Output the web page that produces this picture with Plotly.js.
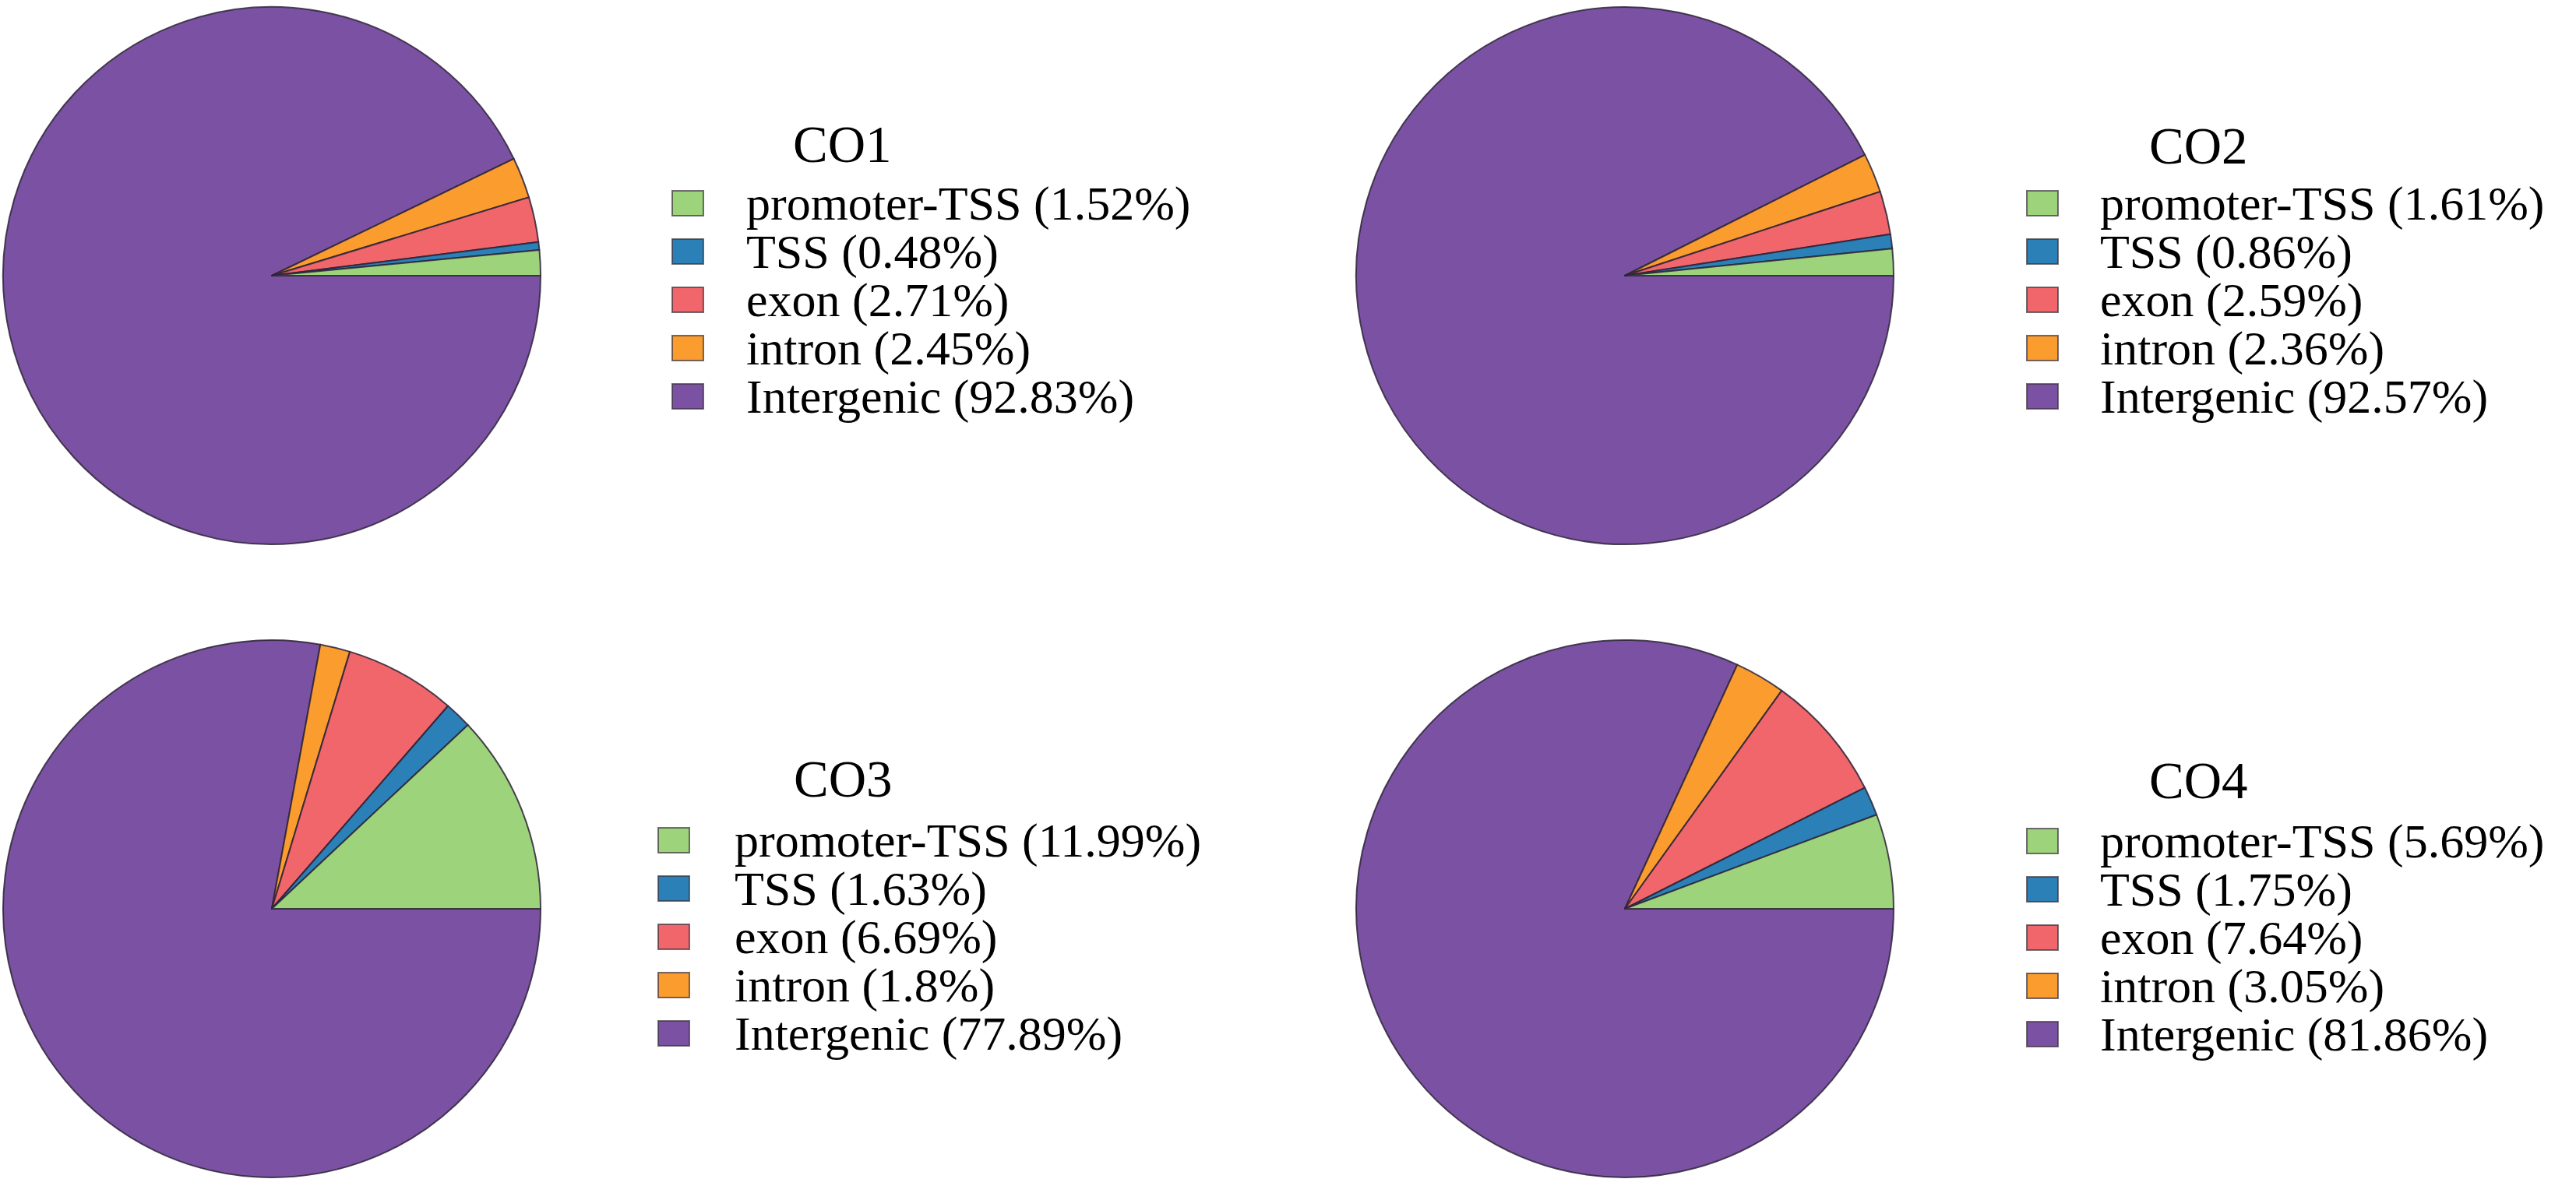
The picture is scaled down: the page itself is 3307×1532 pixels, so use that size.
<!DOCTYPE html>
<html>
<head>
<meta charset="utf-8">
<script src="https://cdn.plot.ly/plotly-3.0.1.min.js"></script>
<style>
html,body{margin:0;padding:0;background:#ffffff;}
#chart{width:3307px;height:1532px;}
</style>
</head>
<body>
<div id="chart"></div>
<script>
// ---- data ----
const categories = ['promoter-TSS', 'TSS', 'exon', 'intron', 'Intergenic'];
const sampleNames = ['CO1', 'CO2', 'CO3', 'CO4'];
const co1 = [1.52, 0.48, 2.71, 2.45, 92.83];
const co2 = [1.61, 0.86, 2.59, 2.36, 92.57];
const co3 = [11.99, 1.63, 6.69, 1.8, 77.89];
const co4 = [5.69, 1.75, 7.64, 3.05, 81.86];
const seriesValues = [co1, co2, co3, co4];

// ---- styles / layout ----
const colors = ['#9dd47b', '#2b80b8', '#f0666b', '#fa9c2e', '#7b52a3'];
const W = 3307, H = 1532;
const FONT = 'Liberation Serif, Times New Roman, Times, serif';
const ITEM_SIZE = 62, TITLE_SIZE = 67;
// pie box [left, top, right, bottom] in px; legend geometry in px
const panels = [
  {pie: [4, 9, 694, 699],        title: [1081, 185],  mx: 863,  tx: 957,  row0: 261,  gap: 62},
  {pie: [1741, 9, 2431, 699],    title: [2822, 187],  mx: 2602, tx: 2695, row0: 261,  gap: 62},
  {pie: [4, 822, 694, 1512],     title: [1082, 1000], mx: 845,  tx: 942,  row0: 1079, gap: 62},
  {pie: [1741, 822, 2431, 1512], title: [2822, 1002], mx: 2602, tx: 2695, row0: 1080, gap: 62}
];

const px = v => v / W;
const py = v => 1 - v / H;

const traces = [];
const shapes = [];
const annotations = [];

seriesValues.forEach((vals, k) => {
  const p = panels[k];
  const labels = categories.map((c, i) => c + ' (' + vals[i] + '%)');
  // drawn clockwise from 3 o'clock in reverse order, so that the slices read
  // promoter-TSS, TSS, exon, intron, Intergenic counter-clockwise from 3 o'clock
  traces.push({
    type: 'pie',
    labels: labels.slice().reverse(),
    values: vals.slice().reverse(),
    sort: false,
    direction: 'clockwise',
    rotation: 90,
    textinfo: 'none',
    hoverinfo: 'label',
    showlegend: false,
    marker: {colors: colors.slice().reverse(), line: {color: 'rgba(45,35,55,0.85)', width: 2}},
    domain: {x: [px(p.pie[0]), px(p.pie[2])], y: [py(p.pie[3]), py(p.pie[1])]}
  });
  annotations.push({
    text: sampleNames[k], xref: 'paper', yref: 'paper',
    x: px(p.title[0]), y: py(p.title[1]), xanchor: 'center', yanchor: 'middle',
    showarrow: false, borderpad: 0, font: {family: FONT, size: TITLE_SIZE, color: '#000000'}
  });
  labels.forEach((lab, i) => {
    const cy = p.row0 + i * p.gap;
    shapes.push({
      type: 'rect', xref: 'paper', yref: 'paper',
      x0: px(p.mx), x1: px(p.mx + 40), y0: py(cy + 16), y1: py(cy - 16),
      fillcolor: colors[i], line: {color: 'rgba(60,50,60,0.7)', width: 2}
    });
    annotations.push({
      text: lab, xref: 'paper', yref: 'paper',
      x: px(p.tx), y: py(cy), xanchor: 'left', yanchor: 'middle',
      showarrow: false, borderpad: 0, font: {family: FONT, size: ITEM_SIZE, color: '#000000'}
    });
  });
});

const layout = {
  width: W, height: H,
  margin: {l: 0, r: 0, t: 0, b: 0, pad: 0},
  paper_bgcolor: '#ffffff', plot_bgcolor: '#ffffff',
  showlegend: false,
  shapes: shapes,
  annotations: annotations,
  font: {family: FONT}
};

Plotly.newPlot('chart', traces, layout, {displayModeBar: false, staticPlot: true});
</script>
</body>
</html>
